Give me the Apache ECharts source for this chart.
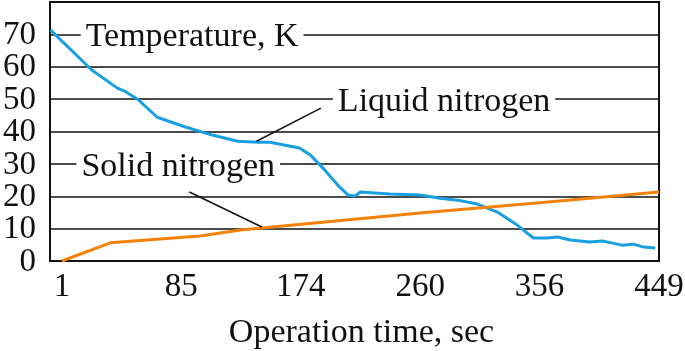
<!DOCTYPE html>
<html>
<head>
<meta charset="utf-8">
<script src="https://cdn.jsdelivr.net/npm/echarts@6/dist/echarts.min.js"></script>
<style>
html, body { margin: 0; padding: 0; background: #fff; }
#chart { width: 685px; height: 351px; }
</style>
</head>
<body>
<div id="chart"></div>
<script>
// x tick labels (seconds), drawn evenly spaced like the original figure
var tickTimes = [1, 85, 174, 260, 356, 449];
var yTicks = [0, 10, 20, 30, 40, 50, 60, 70];

// liquid nitrogen temperature (blue)
var liquidTime = [-7, 22, 40, 45, 55, 68, 88, 108, 127, 142, 151, 173, 181, 190, 202, 208, 213, 217, 238, 260,
	276, 290, 306, 322, 338, 351, 362, 370, 380, 395, 405, 412, 420, 429, 437, 446];
var liquidTemp = [71.3, 59, 53.4, 52.5, 49.7, 44.4, 41.4, 38.9, 37, 36.7, 36.7, 34.9, 32.7, 28.7, 22.8, 20.4, 20.1, 21.3, 20.7, 20.4,
	19.4, 18.8, 17.6, 15.1, 11.1, 7.1, 7.1, 7.4, 6.5, 5.9, 6.2, 5.6, 4.9, 5.2, 4.3, 4.0];

// solid nitrogen temperature (orange)
var solidTime = [1, 35, 99, 129, 260, 356, 449];
var solidTemp = [0, 5.6, 7.7, 9.6, 14.8, 18, 21.3];

var FONT = "'Liberation Serif', 'DejaVu Serif', serif";

// seconds -> position on the evenly spaced tick scale
function timePos(t) {
	var n = tickTimes.length;
	for (var i = 0; i < n - 1; i++) {
		if (t <= tickTimes[i + 1] || i == n - 2) {
			return i + (t - tickTimes[i]) / (tickTimes[i + 1] - tickTimes[i]);
		}
	}
}

function pairs(ts, vs) {
	var out = [];
	for (var i = 0; i < ts.length; i++) out.push([timePos(ts[i]), vs[i]]);
	return out;
}

var chart = echarts.init(document.getElementById('chart'));

var option = {
	animation: false,
	backgroundColor: '#fff',
	grid: {
		left: 50,
		right: 26,
		top: 2,
		bottom: 90,
		outerBoundsMode: 'none',
		containLabel: false,
		show: true,
		borderColor: '#111',
		borderWidth: 2
	},
	xAxis: {
		type: 'value',
		min: -0.1,
		max: tickTimes.length - 1,
		axisLine: { show: true, onZero: false, lineStyle: { color: '#111', width: 2 } },
		axisTick: { show: false },
		splitLine: { show: false },
		axisLabel: {
			customValues: tickTimes.map(function(t, i) { return i; }),
			formatter: function(v) { return String(tickTimes[Math.round(v)]); },
			fontFamily: FONT,
			fontSize: 33,
			color: '#111',
			margin: 10
		},
		name: 'Operation time, sec',
		nameLocation: 'middle',
		nameGap: 55,
		nameTextStyle: { fontFamily: FONT, fontSize: 34, color: '#111', padding: [0, 0, 0, 14] }
	},
	yAxis: {
		type: 'value',
		min: 0,
		max: 80,
		interval: 10,
		axisLine: { show: true, onZero: false, lineStyle: { color: '#111', width: 2 } },
		axisTick: { show: false },
		splitLine: { show: true, lineStyle: { color: '#111', width: 1.5 } },
		axisLabel: { show: false }
	},
	series: [{
		name: 'Liquid nitrogen',
		type: 'line',
		data: pairs(liquidTime, liquidTemp),
		showSymbol: false,
		lineStyle: { color: '#1aa0e0', width: 3 },
		z: 3
	}, {
		name: 'Solid nitrogen',
		type: 'line',
		data: pairs(solidTime, solidTemp),
		showSymbol: false,
		lineStyle: { color: '#f58208', width: 3 },
		z: 4
	}]
};
chart.setOption(option);

// annotation labels sitting on grid lines, with leader lines
var labels = [
	{ text: 'Temperature, K', t: 17, v: 70 },
	{ text: 'Liquid nitrogen', t: 200, v: 50 },
	{ text: 'Solid nitrogen', t: 14, v: 30 }
];
var leaders = [
	{ from: [141, 37.0], to: [188.5, 47.2] },
	{ from: [91, 21.3], to: [145, 10.5] }
];

function px(t, v) {
	return chart.convertToPixel({ gridIndex: 0 }, [timePos(t), v]);
}

var graphics = [];
// y tick labels (drawn by hand: the tight spacing makes echarts drop some)
var gridLeft = chart.convertToPixel({ gridIndex: 0 }, [-0.1, 0])[0];
yTicks.forEach(function(v) {
	var y = chart.convertToPixel({ gridIndex: 0 }, [0, v])[1];
	graphics.push({
		type: 'text',
		x: gridLeft - 14,
		y: y + 1,
		z: 10,
		style: {
			text: String(v),
			font: '33px ' + FONT,
			fill: '#111',
			verticalAlign: 'middle',
			align: 'right'
		}
	});
});
labels.forEach(function(l) {
	var p = px(l.t, l.v);
	graphics.push({
		type: 'text',
		x: p[0] - 4,
		y: p[1] + 3,
		z: 10,
		style: {
			text: l.text,
			font: '34px ' + FONT,
			fill: '#111',
			verticalAlign: 'middle',
			align: 'left',
			backgroundColor: '#fff',
			padding: [0, 5, 0, 5]
		}
	});
});
leaders.forEach(function(d) {
	var a = px(d.from[0], d.from[1]);
	var b = px(d.to[0], d.to[1]);
	graphics.push({
		type: 'line',
		z: 10,
		shape: { x1: a[0], y1: a[1], x2: b[0], y2: b[1] },
		style: { stroke: '#111', lineWidth: 1.5 }
	});
});
chart.setOption({ graphic: graphics });
</script>
</body>
</html>
